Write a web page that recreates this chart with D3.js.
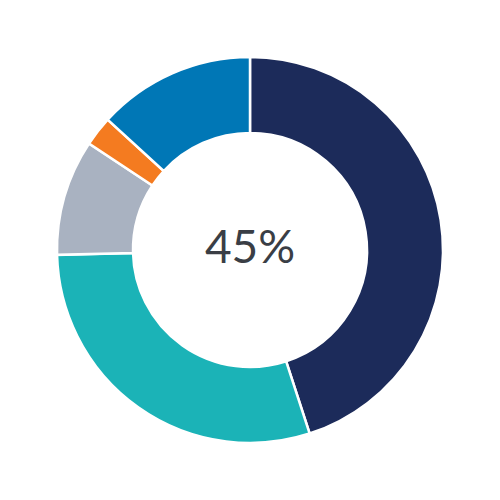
<!DOCTYPE html>
<html>
<head>
<meta charset="utf-8">
<script src="https://cdn.jsdelivr.net/npm/d3@7"></script>
<style>
  body { margin: 0; background: #fff; }
</style>
</head>
<body>
<script>
  var width = 500, height = 500;
  var outerRadius = 193, innerRadius = 117;

  var categories = ["A", "B", "C", "D", "E"];
  var values = [45, 29.6, 9.7, 2.5, 13.2];
  var colors = ["#1c2b5a", "#1bb3b7", "#a9b2c1", "#f47b20", "#0077b6"];
  var centerLabel = "45%";

  var svg = d3.select("body").append("svg")
    .attr("width", width)
    .attr("height", height);

  var g = svg.append("g")
    .attr("transform", "translate(" + width / 2 + "," + height / 2 + ")");

  var pie = d3.pie().sort(null).value(function(d) { return d; });
  var arc = d3.arc().innerRadius(innerRadius).outerRadius(outerRadius);

  var color = d3.scaleOrdinal().domain(categories).range(colors);

  g.selectAll("path")
    .data(pie(values))
    .enter().append("path")
    .attr("d", arc)
    .attr("fill", function(d, i) { return color(categories[i]); })
    .attr("stroke", "#fff")
    .attr("stroke-width", 2.5);

  g.append("text")
    .attr("text-anchor", "middle")
    .attr("y", 13)
    .style("font-family", "Lato, sans-serif")
    .style("font-weight", 400)
    .style("font-size", "46px")
    .style("fill", "#3a3e45")
    .text(centerLabel);
</script>
</body>
</html>
